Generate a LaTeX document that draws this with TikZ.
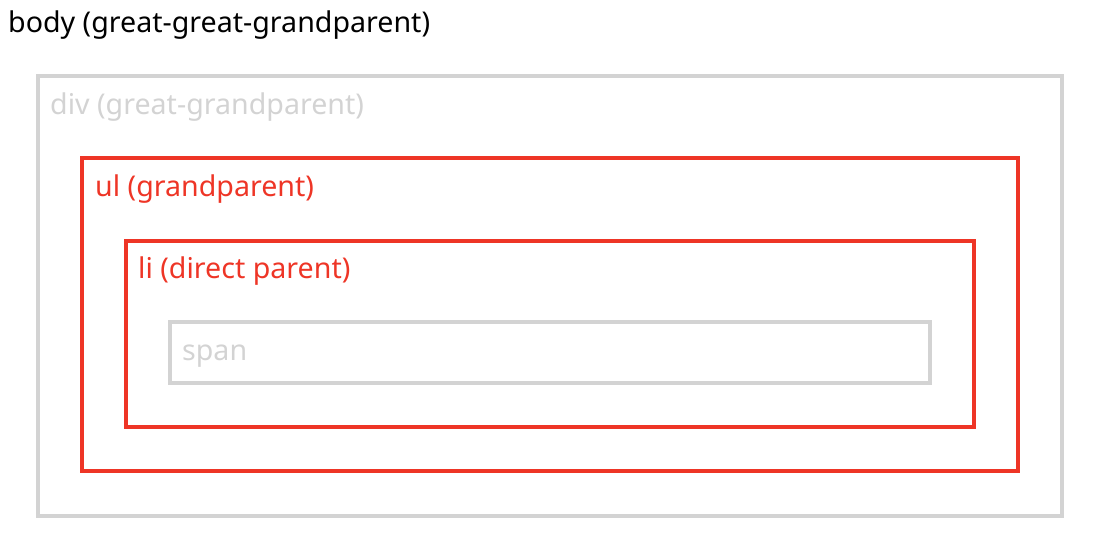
\documentclass[tikz,border=0pt]{standalone}
\usepackage{fontspec}
\setmainfont{Noto Sans}
\definecolor{boxred}{HTML}{EE3526}
\definecolor{boxgray}{HTML}{D3D3D3}
\begin{document}
\begin{tikzpicture}[x=1pt,y=-1pt,
  box/.style={draw, line width=3.5pt, inner sep=0pt},
  lbl/.style={anchor=base west, inner sep=0pt, font=\fontsize{28.6}{34}\selectfont}]
\useasboundingbox (0,0) rectangle (1102,550);
\node[box, draw=boxgray, minimum width=1024pt, minimum height=440pt] (div) at (550,296) {};
\node[box, draw=boxred, minimum width=936pt, minimum height=313pt] (ul) at (550,314.5) {};
\node[box, draw=boxred, minimum width=848pt, minimum height=186pt] (li) at (550,334) {};
\node[box, draw=boxgray, minimum width=760pt, minimum height=61pt] (span) at (550,352.5) {};
\node[lbl, text=black] (tbody) at (8,32) {body (great-great-grandparent)};
\node[lbl, text=boxgray] (tdiv) at (50,114) {div (great-grandparent)};
\node[lbl, text=boxred] (tul) at (95,196) {ul (grandparent)};
\node[lbl, text=boxred] (tli) at (138,278) {li (direct parent)};
\node[lbl, text=boxgray] (tspan) at (182,360) {span};
\end{tikzpicture}
\end{document}
